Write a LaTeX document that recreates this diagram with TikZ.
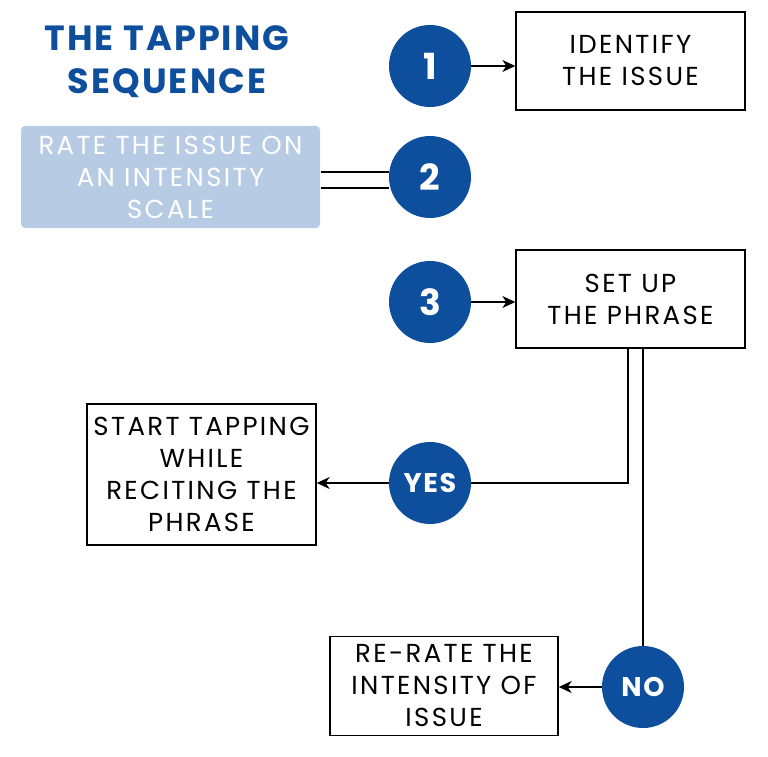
\documentclass[tikz,border=0pt]{standalone}
\usepackage{fontspec}
\setmainfont{Poppins}
\newfontfamily\boxfont{Poppins}[LetterSpace=9]
\newfontfamily\headfont{Poppins}[LetterSpace=6]
\usepackage{tikz}
\definecolor{tapblue}{HTML}{0D4F9C}
\definecolor{rateblue}{HTML}{B7CCE4}
\tikzstyle{block}=[draw, line width=1.4pt, minimum width=229pt, minimum height=98pt, align=center, font=\boxfont\fontsize{26}{32}\selectfont]
\tikzstyle{num}=[circle, fill=tapblue, text=white, minimum size=82pt, inner sep=0pt, font=\headfont\bfseries\fontsize{36}{36}\selectfont]
\tikzstyle{answer}=[num, font=\headfont\bfseries\fontsize{27}{27}\selectfont]
\tikzstyle{arrow}=[line width=1.4pt,-{Stealth[length=13pt,width=12pt,inset=4pt]}]
\usetikzlibrary{shapes.geometric,arrows.meta,positioning,calc}

\begin{document}
\begin{tikzpicture}[x=1pt,y=-1pt]
    \useasboundingbox (0,0) rectangle (768,757);
    \node (title) at (167,62) [align=center, text=tapblue, font=\headfont\bfseries\fontsize{35}{43}\selectfont] {THE TAPPING\\SEQUENCE};
    \node (one) at (430,66) [num] {1};
    \node (two) at (430,177) [num] {2};
    \node (three) at (430,302) [num] {3};
    \node (yes) at (430,483) [answer] {YES};
    \node (no) at (643,687) [answer] {NO};
    \node (ident) at (630.5,61) [block] {IDENTIFY\\THE ISSUE};
    \node (rate) at (170.5,177) [block, draw=none, fill=rateblue, text=white, rounded corners=4pt, minimum width=299pt, minimum height=102pt] {RATE THE ISSUE ON\\AN INTENSITY\\SCALE};
    \node (setup) at (630.5,299) [block] {SET UP\\THE PHRASE};
    \node (start) at (201.5,474.5) [block, minimum height=141pt] {START TAPPING\\WHILE\\RECITING THE\\PHRASE};
    \node (rerate) at (444,686) [block, minimum width=228pt, minimum height=99pt] {RE-RATE THE\\INTENSITY OF\\ISSUE};
    \path[arrow]
    		(one.east) edge (one.east -| ident.west)
    		(three.east) edge (three.east -| setup.west)
    		(yes.west) edge (yes.west -| start.east)
    		(no.west) edge (no.west -| rerate.east);
    	\path[line width=1.4pt]
    		([yshift=5]rate.east) edge ([yshift=5]two.west)
    		([yshift=-11]rate.east) edge ([yshift=-11]two.west)
    		([xshift=12.5]setup.south) edge (no.north);
    	\draw[line width=1.4pt] ([xshift=-2.5]setup.south) |- (yes.east);
\end{tikzpicture}
\end{document}
